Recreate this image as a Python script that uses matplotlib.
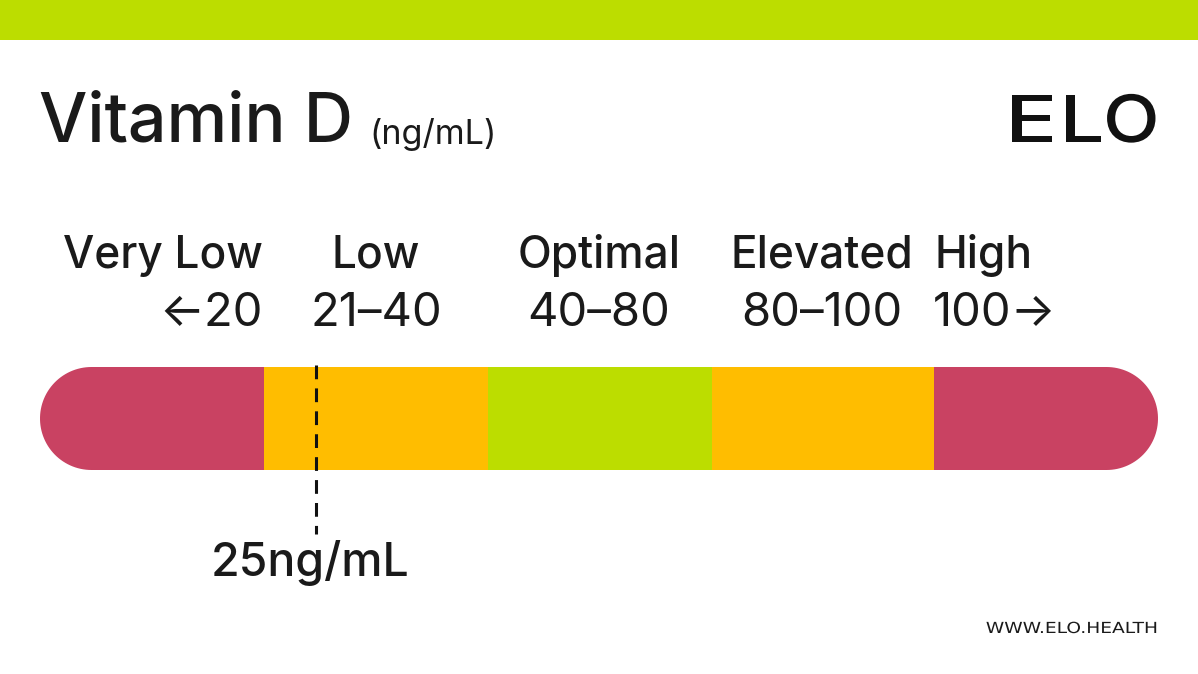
import matplotlib
matplotlib.use("Agg")
import matplotlib.pyplot as plt
import matplotlib.patheffects as pe
import numpy as np
from matplotlib.patches import Polygon, Rectangle
from matplotlib.transforms import Affine2D

plt.rcParams['font.family'] = ['Inter', 'DejaVu Sans']

# the scale is not linear, every band gets one unit of the bar
categories = ["Very Low", "Low", "Optimal", "Elevated", "High"]
ranges = ["←20", "21–40", "40–80", "80–100", "100→"]
band_widths = [1.0, 1.0, 1.0, 0.99, 1.0]
band_colors = ["#C94262", "#FFBD00", "#BCDD00", "#FFBD00", "#C94262"]
result_label = "25ng/mL"
result_pos = 1.23

ink = "#1A1A1A"
W, H = 1198, 674


# logo letters are much wider than any installed font, so stretch the glyphs
class StretchX(pe.AbstractPathEffect):
    def __init__(self, sx, x0):
        super().__init__()
        self.sx = sx
        self.x0 = x0

    def draw_path(self, renderer, gc, tpath, affine, rgbFace=None):
        stretch = Affine2D().translate(-self.x0, 0).scale(self.sx, 1).translate(self.x0, 0)
        renderer.draw_path(gc, tpath, affine + stretch, rgbFace)


fig = plt.figure(figsize=(W / 100, H / 100), dpi=100)

# page axes in pixels, top left origin like the picture
page = fig.add_axes([0, 0, 1, 1])
page.set_xlim(0, W)
page.set_ylim(H, 0)
page.axis("off")

page.add_patch(Rectangle((0, 0), W, 40, color="#BCDD00", lw=0))

page.text(39, 141, "Vitamin D", fontsize=49.2, weight="medium", color=ink, ha="left", va="baseline")
page.text(369, 144, "(ng/mL)", fontsize=24.6, color=ink, ha="left", va="baseline")

for letter, x, sx in zip("ELO", [1005, 1059, 1103], [1.34, 1.24, 1.13]):
    t = page.text(x, 142, letter, fontsize=47, weight="medium", color="#111111", ha="left", va="baseline")
    t.set_path_effects([StretchX(sx, x)])

site = page.text(1158, 633, "WWW.ELO.HEALTH", fontsize=11, color=ink, ha="right", va="baseline",
                 family="DejaVu Sans")
site.set_path_effects([StretchX(1.22, 1158)])

# header labels over the bands
label_x = [263, 376, 599, 822, 935]
label_ha = ["right", "center", "center", "center", "left"]
range_x = [263, 376, 599, 822, 933]
for name, rng, x1, x2, ha in zip(categories, ranges, label_x, range_x, label_ha):
    page.text(x1, 268, name, fontsize=31.8, weight="medium", color=ink, ha=ha, va="baseline")
    page.text(x2, 326, rng, fontsize=34, color=ink, ha=ha, va="baseline")

page.text(310, 576, result_label, fontsize=33.4, weight="medium", color=ink, ha="center", va="baseline")

# the gauge
gauge = fig.add_axes([40 / W, 1 - 470 / H, 1118 / W, 103 / H])
gauge.set_xlim(0, sum(band_widths))
gauge.set_ylim(0, 1)
gauge.axis("off")

# pill outline to clip the bands, half circles on both ends
r = 51.5
theta = np.linspace(-np.pi / 2, np.pi / 2, 60)
right_cap = np.column_stack([1158 - r + r * np.cos(theta), 418.5 + r * np.sin(theta)])
left_cap = np.column_stack([40 + r - r * np.cos(theta), 418.5 - r * np.sin(theta)])
outline = Polygon(np.vstack([right_cap, left_cap]), closed=True, transform=page.transData,
                  fc="none", ec="none")
page.add_patch(outline)

left = 0
for width, color in zip(band_widths, band_colors):
    bar = gauge.barh(0.5, width, height=1, left=left, color=color, lw=0)[0]
    bar.set_clip_path(outline)
    left += width

gauge.plot([result_pos, result_pos], [1.02, -0.62], color="#111111", lw=2.2,
           ls=(0, (4.5, 3)), clip_on=False, solid_capstyle="butt")

fig.savefig("out.png", dpi=100)
